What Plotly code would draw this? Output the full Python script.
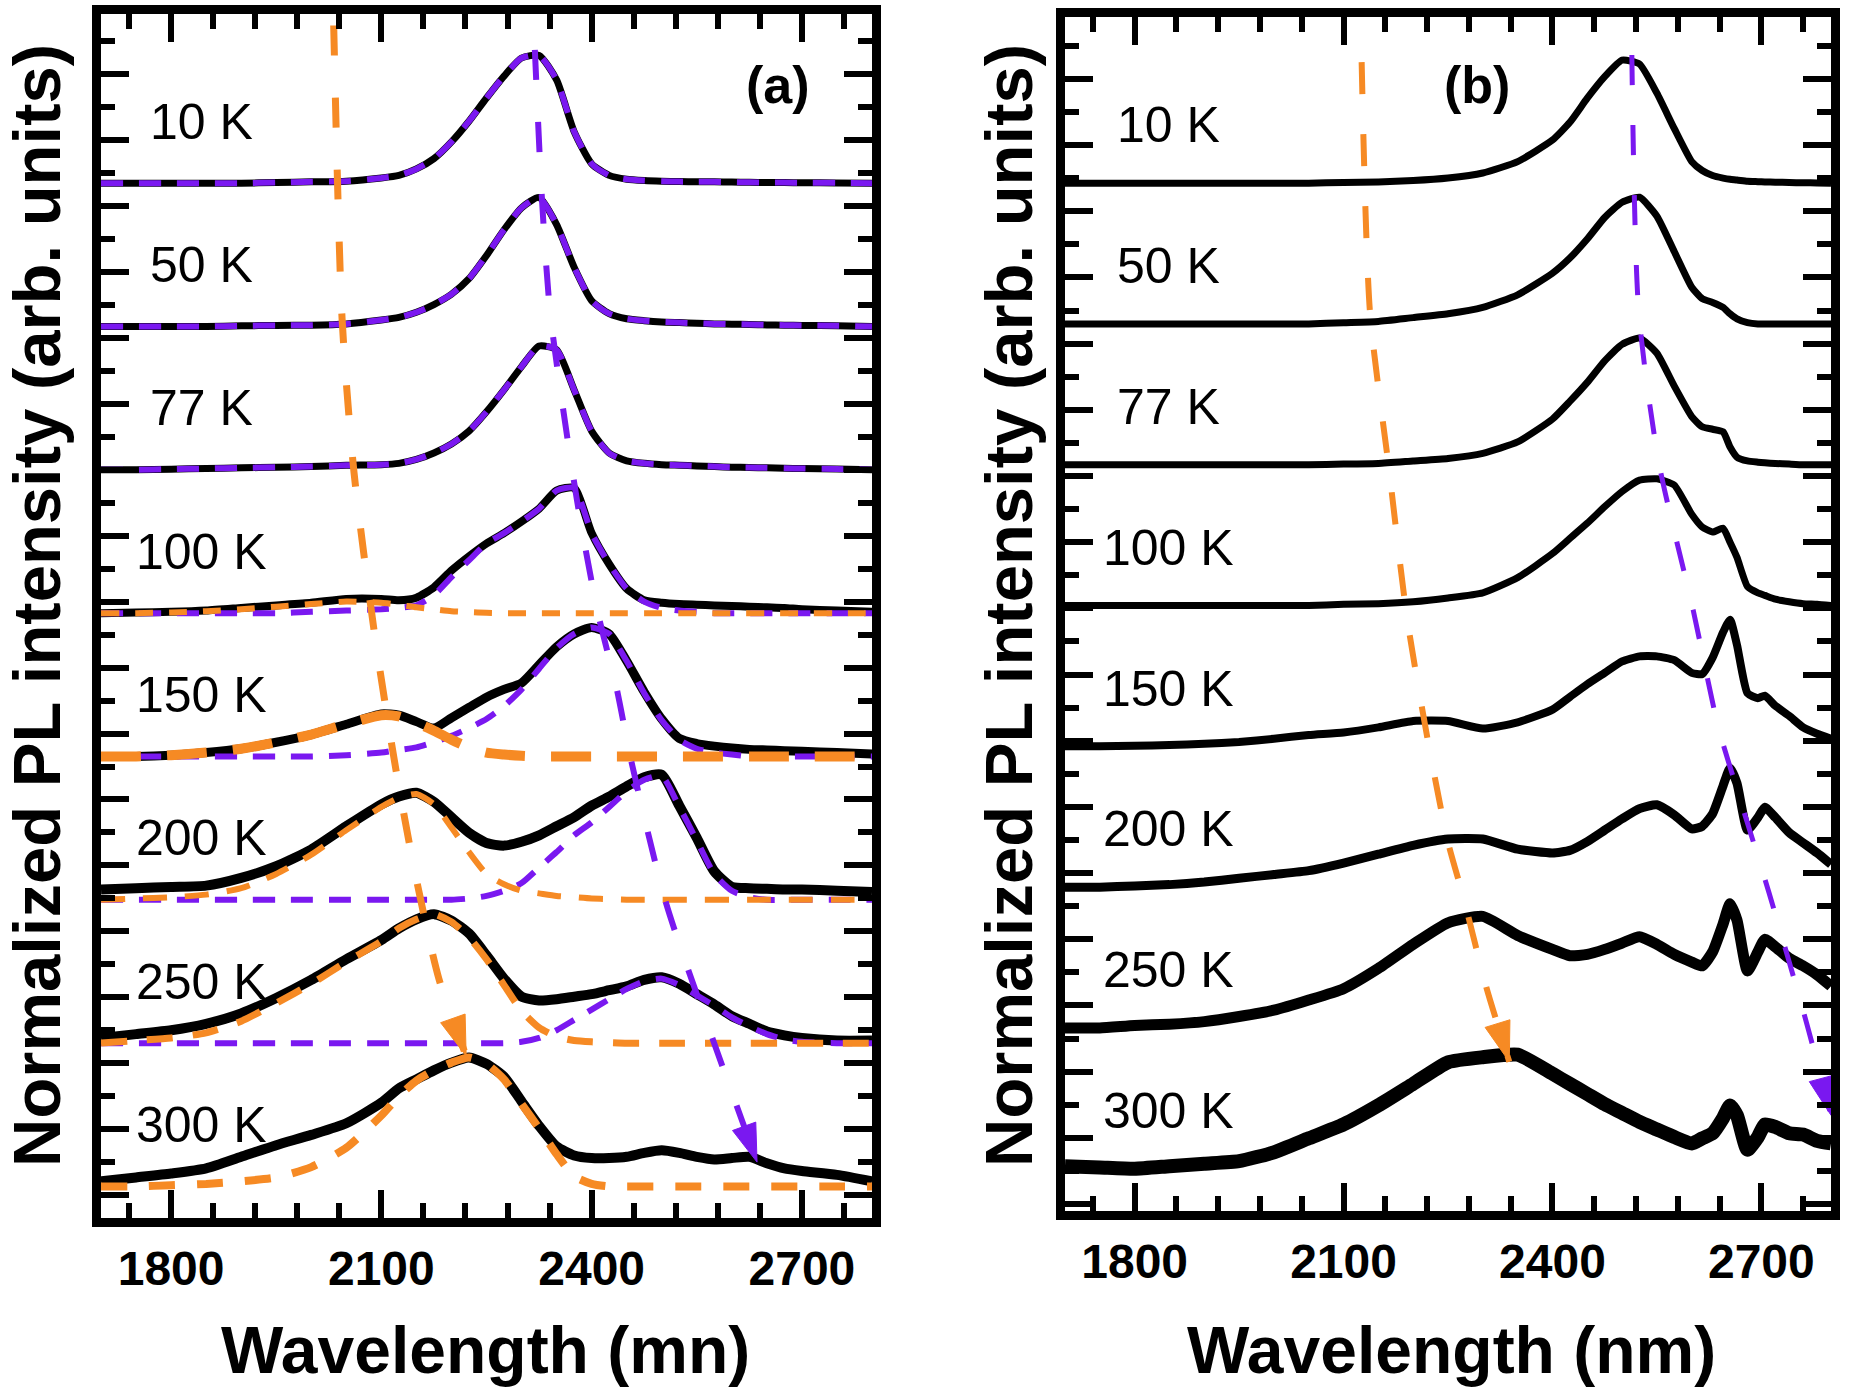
import plotly.graph_objects as go

# ---------------- data ----------------
temps = ["10 K", "50 K", "77 K", "100 K", "150 K", "200 K", "250 K", "300 K"]

# panel (a) wavelength grid (nm)
wl_a = [1700, 1750, 1800, 1850, 1900, 1950, 2000, 2050, 2100, 2125, 2150, 2175, 2200, 2225,
        2250, 2275, 2300, 2325, 2350, 2375, 2400, 2425, 2450, 2475, 2500, 2525, 2550, 2575,
        2600, 2625, 2650, 2675, 2700, 2750, 2800]

# panel (a) measured spectra (normalized)
pl_a_10K = [0, 0, 0, 0, 0, 0.005, 0.01, 0.015, 0.04, 0.06, 0.11, 0.19, 0.32, 0.48, 0.66, 0.83,
            0.97, 0.99, 0.80, 0.40, 0.15, 0.06, 0.03, 0.02, 0.015, 0.012, 0.01, 0.01, 0.008,
            0.006, 0.005, 0.004, 0.003, 0.002, 0.0]
pl_a_50K = [0, 0, 0, 0, 0.005, 0.008, 0.01, 0.02, 0.05, 0.07, 0.11, 0.17, 0.25, 0.37, 0.55,
            0.75, 0.92, 1.0, 0.79, 0.46, 0.2, 0.1, 0.06, 0.045, 0.035, 0.03, 0.025, 0.02, 0.018,
            0.015, 0.012, 0.01, 0.008, 0.005, 0.0]
pl_a_77K = [0, 0, 0.005, 0.01, 0.015, 0.02, 0.025, 0.035, 0.04, 0.05, 0.08, 0.13, 0.2, 0.3,
            0.45, 0.62, 0.8, 0.96, 0.93, 0.62, 0.3, 0.13, 0.07, 0.05, 0.04, 0.035, 0.03, 0.025,
            0.02, 0.018, 0.015, 0.012, 0.01, 0.006, 0.0]
pl_a_100K = [0.0, 0.005, 0.01, 0.02, 0.04, 0.06, 0.08, 0.11, 0.11, 0.10, 0.12, 0.2, 0.33, 0.44,
             0.54, 0.62, 0.71, 0.81, 0.95, 0.97, 0.62, 0.38, 0.19, 0.1, 0.08, 0.07, 0.065, 0.06,
             0.055, 0.05, 0.045, 0.04, 0.03, 0.02, 0.01]
pl_a_150K = [0.0, 0.0, 0.01, 0.03, 0.06, 0.11, 0.17, 0.25, 0.33, 0.32, 0.27, 0.22, 0.3, 0.38,
             0.46, 0.52, 0.57, 0.71, 0.85, 0.95, 1.0, 0.95, 0.74, 0.5, 0.29, 0.14, 0.1, 0.08,
             0.065, 0.055, 0.05, 0.045, 0.04, 0.03, 0.02]
pl_a_200K = [0.08, 0.09, 0.1, 0.11, 0.17, 0.26, 0.39, 0.57, 0.74, 0.8, 0.83, 0.76, 0.64, 0.52,
             0.44, 0.42, 0.45, 0.5, 0.57, 0.64, 0.73, 0.8, 0.88, 0.95, 0.97, 0.73, 0.48, 0.22,
             0.1, 0.09, 0.085, 0.08, 0.08, 0.07, 0.06]
pl_a_250K = [0.04, 0.07, 0.1, 0.15, 0.23, 0.35, 0.49, 0.65, 0.8, 0.89, 0.96, 1.0, 0.95, 0.85,
             0.68, 0.5, 0.36, 0.33, 0.34, 0.36, 0.38, 0.41, 0.44, 0.49, 0.51, 0.46, 0.38, 0.3,
             0.21, 0.15, 0.09, 0.06, 0.04, 0.02, 0.02]
pl_a_300K = [0.04, 0.07, 0.1, 0.14, 0.23, 0.32, 0.4, 0.49, 0.65, 0.76, 0.83, 0.9, 0.96, 1.0,
             0.95, 0.85, 0.66, 0.47, 0.31, 0.24, 0.22, 0.22, 0.23, 0.26, 0.28, 0.26, 0.23, 0.21,
             0.22, 0.23, 0.18, 0.14, 0.12, 0.09, 0.04]

# panel (a) fitted components
fit_purple_100K = [0, 0, 0, 0, 0, 0, 0.01, 0.02, 0.03, 0.04, 0.06, 0.14, 0.28, 0.41, 0.54,
                   0.62, 0.71, 0.81, 0.95, 0.97, 0.62, 0.38, 0.19, 0.09, 0.04, 0.02, 0.01, 0,
                   0, 0, 0, 0, 0, 0, 0]
fit_orange_100K = [0, 0, 0.005, 0.015, 0.03, 0.05, 0.07, 0.09, 0.08, 0.065, 0.045, 0.03, 0.015,
                   0.008, 0.003, 0, 0, 0, 0, 0, 0, 0, 0, 0, 0, 0, 0, 0, 0, 0, 0, 0, 0, 0, 0]
fit_purple_150K = [0, 0, 0, 0, 0, 0, 0, 0.01, 0.03, 0.05, 0.07, 0.11, 0.16, 0.22, 0.29, 0.39,
                   0.52, 0.68, 0.84, 0.95, 1.0, 0.95, 0.74, 0.49, 0.28, 0.13, 0.06, 0.03,
                   0.015, 0, 0, 0, 0, 0, 0]
fit_orange_150K = [0, 0, 0.01, 0.03, 0.06, 0.11, 0.17, 0.25, 0.32, 0.31, 0.26, 0.2, 0.13, 0.07,
                   0.03, 0.015, 0.005, 0, 0, 0, 0, 0, 0, 0, 0, 0, 0, 0, 0, 0, 0, 0, 0, 0, 0]
fit_purple_200K = [0, 0, 0, 0, 0, 0, 0, 0, 0, 0, 0, 0, 0, 0.01, 0.03, 0.07, 0.13, 0.25, 0.37,
                   0.5, 0.6, 0.72, 0.84, 0.93, 0.96, 0.72, 0.46, 0.2, 0.07, 0.02, 0, 0, 0, 0, 0]
fit_orange_200K = [0.0, 0.01, 0.02, 0.04, 0.09, 0.2, 0.35, 0.54, 0.72, 0.79, 0.82, 0.74, 0.56,
                   0.37, 0.2, 0.12, 0.07, 0.05, 0.03, 0.02, 0.01, 0.005, 0, 0, 0, 0, 0, 0, 0,
                   0, 0, 0, 0, 0, 0]
fit_purple_250K = [0, 0, 0, 0, 0, 0, 0, 0, 0, 0, 0, 0, 0, 0, 0, 0, 0.01, 0.04, 0.1, 0.18, 0.26,
                   0.34, 0.42, 0.48, 0.5, 0.45, 0.37, 0.29, 0.2, 0.13, 0.07, 0.03, 0.01, 0, 0]
fit_orange_250K = [0.0, 0.02, 0.04, 0.08, 0.17, 0.31, 0.46, 0.63, 0.79, 0.89, 0.96, 1.0, 0.94,
                   0.82, 0.65, 0.45, 0.25, 0.12, 0.05, 0.02, 0.01, 0.005, 0, 0, 0, 0, 0, 0, 0,
                   0, 0, 0, 0, 0, 0]
fit_orange_300K = [0.0, 0.0, 0.01, 0.02, 0.04, 0.07, 0.15, 0.3, 0.55, 0.7, 0.82, 0.9, 0.96, 1.0,
                   0.95, 0.83, 0.64, 0.45, 0.25, 0.08, 0.02, 0, 0, 0, 0, 0, 0, 0, 0, 0, 0, 0, 0,
                   0, 0]

# panel (b) wavelength grid (nm)
wl_b = [1700, 1750, 1800, 1850, 1900, 1950, 2000, 2050, 2100, 2150, 2200, 2250, 2300, 2350,
        2400, 2425, 2450, 2475, 2500, 2525, 2550, 2575, 2600, 2615, 2630, 2645, 2655, 2665,
        2680, 2695, 2705, 2720, 2740, 2760, 2780, 2800]

pl_b_10K = [0, 0, 0, 0, 0, 0, 0, 0, 0.005, 0.01, 0.02, 0.04, 0.08, 0.17, 0.34, 0.48, 0.67,
            0.84, 0.97, 0.94, 0.71, 0.43, 0.17, 0.1, 0.06, 0.04, 0.03, 0.025, 0.015, 0.012,
            0.01, 0.008, 0.005, 0.003, 0.002, 0.0]
pl_b_50K = [0, 0, 0, 0, 0, 0, 0, 0, 0.01, 0.02, 0.05, 0.08, 0.13, 0.23, 0.4, 0.52, 0.67, 0.84,
            0.96, 1.0, 0.85, 0.57, 0.29, 0.2, 0.17, 0.13, 0.08, 0.04, 0.01, 0, 0, 0, 0, 0, 0, 0]
pl_b_77K = [0, 0, 0, 0, 0, 0, 0, 0, 0.005, 0.01, 0.03, 0.05, 0.09, 0.18, 0.36, 0.5, 0.65, 0.82,
            0.95, 1.0, 0.88, 0.62, 0.38, 0.3, 0.28, 0.26, 0.14, 0.06, 0.03, 0.02, 0.015, 0.01,
            0.005, 0, 0, 0]
pl_b_100K = [0, 0, 0, 0, 0, 0, 0, 0, 0.01, 0.015, 0.03, 0.06, 0.1, 0.22, 0.41, 0.53, 0.65,
             0.78, 0.9, 0.99, 1.0, 0.95, 0.72, 0.62, 0.58, 0.61, 0.5, 0.38, 0.15, 0.1, 0.08,
             0.05, 0.03, 0.015, 0.01, 0.0]
pl_b_150K = [0, 0, 0.005, 0.01, 0.02, 0.035, 0.06, 0.09, 0.11, 0.15, 0.2, 0.2, 0.14, 0.19, 0.29,
             0.39, 0.49, 0.58, 0.67, 0.71, 0.71, 0.68, 0.58, 0.57, 0.7, 0.9, 1.0, 0.8, 0.42,
             0.38, 0.4, 0.32, 0.24, 0.15, 0.1, 0.06]
pl_b_200K = [0, 0, 0.01, 0.02, 0.04, 0.07, 0.1, 0.13, 0.19, 0.26, 0.33, 0.38, 0.38, 0.3, 0.27,
             0.29, 0.36, 0.45, 0.54, 0.62, 0.65, 0.57, 0.46, 0.48, 0.58, 0.8, 0.94, 0.82, 0.45,
             0.55, 0.63, 0.55, 0.43, 0.35, 0.27, 0.18]
pl_b_250K = [0, 0, 0.02, 0.03, 0.05, 0.09, 0.14, 0.22, 0.31, 0.47, 0.66, 0.83, 0.88, 0.73, 0.62,
             0.57, 0.58, 0.62, 0.67, 0.72, 0.66, 0.58, 0.52, 0.49, 0.6, 0.82, 0.98, 0.85, 0.45,
             0.6, 0.7, 0.64, 0.55, 0.49, 0.42, 0.33]
pl_b_300K = [0.02, 0.01, 0.0, 0.02, 0.04, 0.06, 0.13, 0.24, 0.35, 0.5, 0.67, 0.84, 0.88, 0.9,
             0.75, 0.67, 0.59, 0.51, 0.44, 0.37, 0.31, 0.25, 0.2, 0.24, 0.28, 0.4, 0.5, 0.42,
             0.15, 0.25, 0.35, 0.33, 0.28, 0.27, 0.22, 0.2]

# peak-shift guide arrows (wavelength, stacked intensity units)
guide_a_orange_x = [2032, 2044, 2061, 2091, 2120, 2148, 2182, 2221]
guide_a_orange_y = [8.10, 6.05, 4.98, 3.83, 2.93, 2.19, 1.45, 0.91]
guide_a_purple_x = [2319, 2329, 2341, 2379, 2409, 2435, 2456, 2506, 2577, 2636]
guide_a_purple_y = [7.93, 6.90, 6.09, 4.79, 4.00, 3.49, 2.98, 1.98, 0.97, 0.17]
guide_b_orange_x = [2126, 2138, 2165, 2191, 2220, 2250, 2272, 2305, 2338]
guide_b_orange_y = [7.86, 6.08, 4.98, 3.92, 3.07, 2.32, 1.93, 1.29, 0.76]
guide_b_purple_x = [2514, 2524, 2553, 2602, 2638, 2671, 2711, 2763, 2800]
guide_b_purple_y = [7.91, 6.08, 5.01, 3.97, 3.14, 2.60, 1.96, 1.07, 0.38]

x_ticks = [1800, 2100, 2400, 2700]

# ---------------- figure ----------------
PURPLE = "rgb(122,24,240)"
ORANGE = "rgb(246,138,36)"
FONT = "Liberation Sans, Arial, sans-serif"
PEAK = 0.9
n = len(temps)

pl_a = [pl_a_10K, pl_a_50K, pl_a_77K, pl_a_100K, pl_a_150K, pl_a_200K, pl_a_250K, pl_a_300K]
pl_b = [pl_b_10K, pl_b_50K, pl_b_77K, pl_b_100K, pl_b_150K, pl_b_200K, pl_b_250K, pl_b_300K]
fits_purple = [pl_a_10K, pl_a_50K, pl_a_77K, fit_purple_100K, fit_purple_150K,
               fit_purple_200K, fit_purple_250K, None]
fits_orange = [None, None, None, fit_orange_100K, fit_orange_150K, fit_orange_200K,
               fit_orange_250K, fit_orange_300K]

lw_a = [7, 7, 7, 8, 9, 10, 10, 10]
lw_b = [7, 7, 7, 7, 8, 9, 11, 14]
orange_w = [0, 0, 0, 6, 10, 6, 7, 8]
orange_dash = ["", "", "", "18px,16px", "40px,26px", "24px,18px", "26px,20px", "26px,22px"]


def stack(vals, i):
    return [(n - 1 - i) + PEAK * v for v in vals]


fig = go.Figure()

for i in range(n):
    fig.add_trace(go.Scatter(x=wl_a, y=stack(pl_a[i], i), mode="lines", xaxis="x", yaxis="y",
                             line=dict(color="black", width=lw_a[i], shape="spline", smoothing=0.6),
                             showlegend=False, hoverinfo="skip"))
for i in range(n):
    if fits_purple[i] is not None:
        fig.add_trace(go.Scatter(x=wl_a, y=stack(fits_purple[i], i), mode="lines", xaxis="x", yaxis="y",
                                 line=dict(color=PURPLE, width=6, dash="22px,16px", shape="spline",
                                           smoothing=0.6),
                                 showlegend=False, hoverinfo="skip"))
    if fits_orange[i] is not None:
        fig.add_trace(go.Scatter(x=wl_a, y=stack(fits_orange[i], i), mode="lines", xaxis="x", yaxis="y",
                                 line=dict(color=ORANGE, width=orange_w[i], dash=orange_dash[i],
                                           shape="spline", smoothing=0.6),
                                 showlegend=False, hoverinfo="skip"))

for i in range(n):
    fig.add_trace(go.Scatter(x=wl_b, y=stack(pl_b[i], i), mode="lines", xaxis="x2", yaxis="y2",
                             line=dict(color="black", width=lw_b[i], shape="spline", smoothing=0.5),
                             showlegend=False, hoverinfo="skip"))


def guide(xs, ys, color, xa, ya, dash, width, head):
    sizes = [0] * (len(xs) - 1) + [head]
    fig.add_trace(go.Scatter(x=xs, y=ys, mode="lines+markers", xaxis=xa, yaxis=ya,
                             line=dict(color=color, width=width, dash=dash, shape="spline",
                                       smoothing=0.7),
                             marker=dict(symbol="arrow", size=sizes, angleref="previous",
                                         color=color, opacity=1, line=dict(width=1, color=color)),
                             showlegend=False, hoverinfo="skip"))


guide(guide_a_orange_x, guide_a_orange_y, ORANGE, "x", "y", "30px,42px", 7, 42)
guide(guide_a_purple_x, guide_a_purple_y, PURPLE, "x", "y", "30px,42px", 6, 40)
guide(guide_b_orange_x, guide_b_orange_y, ORANGE, "x2", "y2", "32px,40px", 6, 42)
guide(guide_b_purple_x, guide_b_purple_y, PURPLE, "x2", "y2", "30px,40px", 5, 40)

W, H = 1850, 1393
dom_a_x = [101 / W, 872 / W]
dom_b_x = [1065 / W, 1831 / W]
dom_a_y = [1 - 1218 / H, 1 - 14 / H]
dom_b_y = [1 - 1211 / H, 1 - 17 / H]

xcommon = dict(range=[1700, 2800], tickmode="array", tickvals=x_ticks,
               ticktext=[str(t) for t in x_ticks],
               ticks="inside", ticklen=28, tickwidth=6, tickcolor="black",
               minor=dict(tick0=1800, dtick=60, ticks="inside", ticklen=15, tickwidth=6,
                          tickcolor="black"),
               showline=True, linewidth=9, linecolor="black", mirror="ticks",
               showgrid=False, zeroline=False,
               tickfont=dict(family=FONT, size=48, color="black", weight="bold"),
               ticklabelstandoff=0)
ycommon = dict(ticks="inside", ticklen=28, tickwidth=6, tickcolor="black",
               showticklabels=False, showline=True, linewidth=9, linecolor="black",
               mirror="ticks", showgrid=False, zeroline=False)

fig.update_layout(
    width=W, height=H, margin=dict(l=0, r=0, t=0, b=0),
    paper_bgcolor="white", plot_bgcolor="white",
    xaxis=dict(domain=dom_a_x, anchor="y", **xcommon),
    yaxis=dict(domain=dom_a_y, anchor="x", range=[-0.22, 8.18], tick0=7.30, dtick=0.46,
               minor=dict(tick0=7.53, dtick=0.23, ticks="inside", ticklen=14, tickwidth=6,
                          tickcolor="black"), **ycommon),
    xaxis2=dict(domain=dom_b_x, anchor="y2", **xcommon),
    yaxis2=dict(domain=dom_b_y, anchor="x2", range=[-0.30, 8.18], tick0=7.27, dtick=0.47,
                minor=dict(tick0=7.505, dtick=0.235, ticks="inside", ticklen=14, tickwidth=6,
                           tickcolor="black"), **ycommon),
)

ann = []
label_x_a = 1843
label_x_b = 1849
for i, t in enumerate(temps):
    ann.append(dict(x=label_x_a, y=(n - 1 - i) + 0.43, xref="x", yref="y", text=t, showarrow=False,
                    xanchor="center", yanchor="middle",
                    font=dict(family=FONT, size=50, color="black")))
    ann.append(dict(x=label_x_b, y=(n - 1 - i) + 0.41, xref="x2", yref="y2", text=t, showarrow=False,
                    xanchor="center", yanchor="middle",
                    font=dict(family=FONT, size=50, color="black")))

bold = dict(family=FONT, color="black", weight="bold")
ann.append(dict(x=778 / W, y=1 - 85 / H, xref="paper", yref="paper", text="(a)", showarrow=False,
                xanchor="center", yanchor="middle", font=dict(size=52, **bold)))
ann.append(dict(x=1477 / W, y=1 - 85 / H, xref="paper", yref="paper", text="(b)", showarrow=False,
                xanchor="center", yanchor="middle", font=dict(size=52, **bold)))
ann.append(dict(x=486 / W, y=1 - 1350 / H, xref="paper", yref="paper", text="Wavelength (mn)",
                showarrow=False, xanchor="center", yanchor="middle", font=dict(size=66, **bold)))
ann.append(dict(x=1451 / W, y=1 - 1350 / H, xref="paper", yref="paper", text="Wavelength (nm)",
                showarrow=False, xanchor="center", yanchor="middle", font=dict(size=66, **bold)))
ann.append(dict(x=36 / W, y=1 - 606 / H, xref="paper", yref="paper",
                text="Normalized PL intensity (arb. units)", textangle=-90,
                showarrow=False, xanchor="center", yanchor="middle", font=dict(size=67, **bold)))
ann.append(dict(x=1008 / W, y=1 - 606 / H, xref="paper", yref="paper",
                text="Normalized PL intensity (arb. units)", textangle=-90,
                showarrow=False, xanchor="center", yanchor="middle", font=dict(size=67, **bold)))
fig.update_layout(annotations=ann)

fig.write_html("out.html")
